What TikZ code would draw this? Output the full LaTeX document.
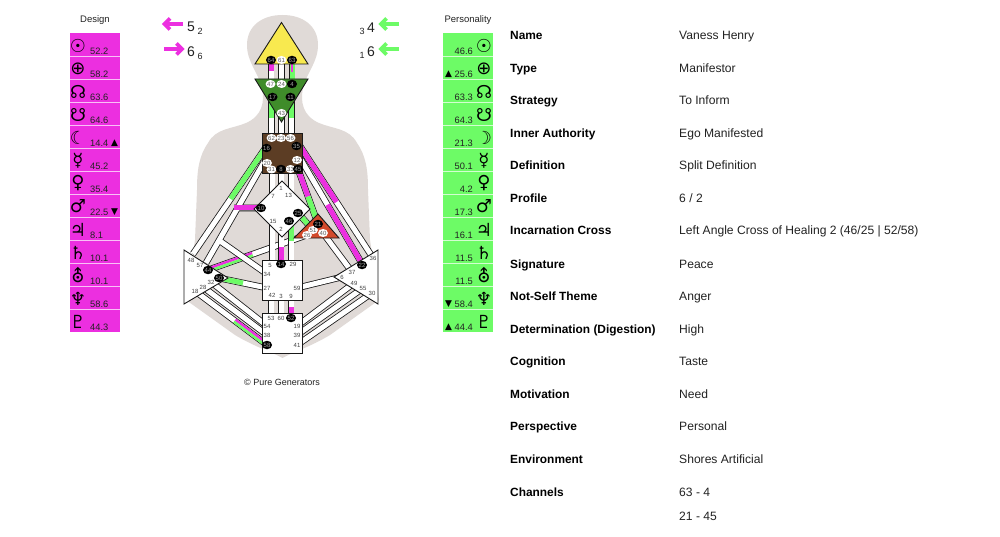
\documentclass[tikz,border=0pt]{standalone}
\usepackage{fontspec}
\setmainfont{Liberation Sans}
\newfontfamily\symf{DejaVu Sans}
\usetikzlibrary{calc,shapes.geometric}
\definecolor{mag}{HTML}{EC2FE0}
\definecolor{grn}{HTML}{6DFB66}
\definecolor{body}{HTML}{E0DAD7}
\definecolor{yel}{HTML}{F8E94F}
\definecolor{ajn}{HTML}{3F8C2A}
\definecolor{brn}{HTML}{5C3D24}
\definecolor{red2}{HTML}{D24A2B}
\definecolor{txt}{HTML}{222222}
\newcommand{\fs}[1]{\fontsize{#1}{#1}\selectfont}
\newcommand{\slh}{/}
\tikzset{
 x=1pt,y=-1pt,
 chanout/.style={line width=6.6pt,black!90},
 chanin/.style={line width=5pt,white},
 chang/.style={line width=5pt,grn},
 chanm/.style={line width=5pt,mag},
 centre/.style={draw=black!90,line width=0.9pt,line join=miter},
 gplain/.style={inner sep=0pt,font=\fs{6},text=black!75},
 gwhite/.style={ellipse,fill=white,inner sep=0pt,minimum width=10pt,minimum height=8pt,font=\fs{6},text=black!65},
 gblack/.style={ellipse,fill=black,inner sep=0pt,minimum width=10pt,minimum height=8.5pt,font=\fs{6},text=white!65!black},
 lab/.style={anchor=base west,inner sep=0pt,font=\bfseries\fs{11.9},text=black},
 val/.style={anchor=base west,inner sep=0pt,font=\fs{12.1},text=txt},
 cell/.style={inner sep=0pt,font=\fs{9.3},text=txt},
 glyph/.style={inner sep=0pt,font=\symf\fs{18},text=black},
 mini/.style={inner sep=0pt,font=\symf\fs{9},text=black},
 bigd/.style={inner sep=0pt,font=\fs{14},text=txt},
 subd/.style={inner sep=0pt,font=\fs{9},text=txt},
 head/.style={inner sep=0pt,font=\fs{9.5},text=txt},
 garrow/.style={line width=3.8pt,line join=miter},
 rowgap/.style={line width=0.8pt,white!70!#1},
}
\newcommand{\chan}[2]{\draw[chanout] (#1)--(#2); \draw[chanin] (#1)--(#2);}
\begin{document}
\begin{tikzpicture}
\useasboundingbox (0,0) rectangle (1000,537);
\fill[white] (0,0) rectangle (1000,537);
% silhouette
\fill[body] (282.5,15) .. controls (262,15) and (247,26) .. (247,45)
 .. controls (247,62) and (258,72) .. (262,88)
 .. controls (265,102) and (262,116) .. (246,123)
 .. controls (232,129) and (216,128) .. (208,143)
 .. controls (199,156) and (197,170) .. (197,190)
 -- (195,240) -- (186,300) -- (235,335)
 .. controls (255,347) and (272,352) .. (282.5,358)
 .. controls (293,352) and (310,347) .. (330,335)
 -- (379,300) -- (370,240) -- (368,190)
 .. controls (368,170) and (366,156) .. (357,143)
 .. controls (349,128) and (333,129) .. (319,123)
 .. controls (303,116) and (300,102) .. (303,88)
 .. controls (307,72) and (318,62) .. (318,45)
 .. controls (318,26) and (303,15) .. (282.5,15) -- cycle;
% gate coordinates
\foreach \n/\x/\y in {64/271/60,61/281.5/60,63/292/60,47/270.5/84,24/281.5/84,4/292/84,17/272.5/97,11/290.5/97,43/281.5/113,
62/271.5/138,23/281/138,56/290.5/138,16/266.5/148,35/296.5/146,20/267/163,12/297/160,31/271.5/169.5,8/281/169,33/290.5/169,45/298/169,
1/281/188,7/273/196,13/288.5/195,10/261/208,25/298/213,15/273/221,46/289/221,2/281/229,
21/318/224,51/313/230,26/307/235,40/323/233,
5/270/265,14/281/264,29/293/264,34/267/274,59/297/288,27/267/288,42/272/295,3/281/296,9/291/296,
53/271/318,60/281/318,52/291/318,54/267/326,19/297/326,38/267/335,39/297/335,58/267/345,41/297/345,
48/191/260,57/200/265,44/208/270,50/219/278,32/211/282,28/203/287,18/195/291,
36/373/258,22/362/265,37/352/272,6/342/277,49/354/283,55/363/288,30/372/293}
 {\coordinate (g\n) at (\x,\y);}
\coordinate (t64) at (271,60); \coordinate (b47) at (271,84);
\coordinate (t7) at (272,173); \coordinate (b7) at (272,200);
\coordinate (t1) at (281,173); \coordinate (b1) at (281,190);
\coordinate (t13) at (291,173); \coordinate (b13) at (291,200);
\coordinate (t15) at (272,225); \coordinate (b15) at (272,262);
\coordinate (t2) at (281,230); \coordinate (b2) at (281,262);
\coordinate (t46) at (291,225); \coordinate (b46) at (291,262);
\coordinate (t62) at (271.5,100); \coordinate (b62) at (271.5,135);
\coordinate (t23) at (281.5,110); \coordinate (b23) at (281.5,135);
\coordinate (t56) at (291.5,100); \coordinate (b56) at (291.5,135);
\coordinate (t42) at (271,298); \coordinate (b42) at (271,315);
\coordinate (t3) at (281,298); \coordinate (b3) at (281,315);
\coordinate (t9) at (291,298); \coordinate (b9) at (291,315);
\coordinate (j10) at (234,208);
\coordinate (j34) at (220,241);
\coordinate (e48) at (193,254); \coordinate (e57) at (206,263);
\coordinate (s16) at (264,150); \coordinate (s20) at (264,162);
\coordinate (s35) at (300,146); \coordinate (e36) at (373,258);
\coordinate (s12) at (300,158); \coordinate (e22) at (361,262);
% channel 44-26 lies under the others
\chan{g44}{g26}
\draw[line width=2.5pt,mag] ($(g44)!1.25pt!90:(g26)$) -- ($($(g44)!0.45!(g26)$)!1.25pt!90:(g26)$);
\draw[line width=2.5pt,grn] ($(g44)!1.25pt!-90:(g26)$) -- ($($(g44)!0.45!(g26)$)!1.25pt!-90:(g26)$);
% spleen to G and throat
\chan{s16}{e48}
\draw[chang] (s16) -- ($(s16)!0.47!(e48)$);
\draw[chanout] (s20)--(e57) (g10)--(j10) (g34)--(j34);
\draw[chanin] (s20)--(e57) (g10)--(j10) (g34)--(j34);
\draw[chanm] (g10)--(j10);
% right wing
\chan{s35}{e36}
\draw[chanm] (s35) -- ($(s35)!0.5!(e36)$);
\chan{s12}{e22}
\draw[chanm] ($(s12)!0.45!(e22)$) -- (e22);
\chan{g45}{g21}
\draw[chanm] (g45) -- ($(g45)!0.5!(g21)$);
\draw[chang] ($(g45)!0.5!(g21)$) -- (g21);
\chan{g25}{g51}
\draw[chang] (g25) -- (g51);
\chan{g40}{g37}
% head / ajna
\chan{t64}{b47}
\draw[chanm] (t64) -- (271,71);
\chan{g61}{g24}
\chan{g63}{g4}
\draw[chang] (g63) -- (g4);
\draw[line width=2.6pt,mag] (g63) -- (292,72);
% ajna / throat
\chan{t62}{b62} \draw[chang] (t62) -- (271.5,118);
\chan{t23}{b23}
\chan{t56}{b56} \draw[chang] (t56) -- (291.5,118);
% throat / G
\chan{t7}{b7} \chan{t1}{b1} \chan{t13}{b13}
% G / sacral
\chan{t15}{b15} \chan{t2}{b2} \chan{t46}{b46}
\draw[chang] (t46) -- (291,241);
\draw[chanm] (281,247) -- (b2);
% sacral / spleen, solar
\chan{g27}{g50} \draw[chang] (g50) -- ($(g50)!0.5!(g27)$);
\chan{g59}{g6}
% sacral / root
\chan{t42}{b42} \chan{t3}{b3} \chan{t9}{b9}
\draw[chanm] (291,307) -- (b9);
% root / spleen
\chan{g54}{g32} \chan{g38}{g28} \chan{g58}{g18}
\draw[line width=2.5pt,mag] ($(g58)!1.25pt!-90:(g18)$) -- ($($(g58)!0.45!(g18)$)!1.25pt!-90:(g18)$);
\draw[line width=2.5pt,grn] ($(g58)!1.25pt!90:(g18)$) -- ($($(g58)!0.45!(g18)$)!1.25pt!90:(g18)$);
% root / solar
\chan{g19}{g49} \chan{g39}{g55} \chan{g41}{g30}
% centres
\draw[centre,fill=yel] (281.5,22.5)--(308,64)--(255,64)--cycle;
\draw[centre,fill=ajn] (255,79)--(308,79)--(281.5,122)--cycle;
\draw[centre,fill=brn] (262,133) rectangle (302,173);
\draw[centre,fill=white] (282,181)--(310,209)--(282,237)--(254,209)--cycle;
\draw[centre,fill=red2] (318,214)--(339,238)--(294,238)--cycle;
\draw[centre,fill=white] (262,260) rectangle (302,300);
\draw[centre,fill=white] (262,313) rectangle (302,353);
\draw[centre,fill=white] (184,250)--(228,278)--(184,304)--cycle;
\draw[centre,fill=white] (378,250)--(334,277)--(378,304)--cycle;
% gate labels
\foreach \n in {61,47,24,43,62,23,56,20,12,31,33,51,26,40}
 {\node[gwhite] (n\n) at (g\n) {\n};}
\foreach \n in {64,63,4,17,11,16,35,8,45,10,25,46,21,14,52,58,44,50,22}
 {\node[gblack] (n\n) at (g\n) {\n};}
\foreach \n in {1,7,13,15,2,5,29,34,59,27,42,3,9,53,60,54,19,38,39,41,48,57,32,28,18,36,37,6,49,55,30}
 {\node[gplain] (n\n) at (g\n) {\n};}
\node[inner sep=0pt,font=\fs{9},text=txt] (copy) at (282,382) {© Pure Generators};
% design column
\node[head] (hd) at (95,20) {Design};
\node[head] (hp) at (468,20) {Personality};
\fill[mag] (70,33) rectangle (120,332);
\fill[grn] (443,33) rectangle (493,332);
\foreach \i in {1,...,12}{
 \draw[rowgap=mag] (70,33+23*\i) -- (120,33+23*\i);
 \draw[rowgap=grn] (443,33+23*\i) -- (493,33+23*\i);
}
\foreach \i/\g/\v/\m in {0/☉/52.2/,1/⊕/58.2/,2/☊/63.6/,3/☋/64.6/,4/☾/14.4/▲,5/☿/45.2/,6/♀/35.4/,7/♂/22.5/▼,8/♃/8.1/,9/♄/10.1/,10/⛢/10.1/,11/♆/58.6/,12/♇/44.3/}{
 \node[glyph] (dg\i) at (78,45.5+23*\i) {\g};
 \node[cell,anchor=base west] (dv\i) at (90,54.4+23*\i) {\v};
 \node[mini] (dm\i) at (114.5,51+23*\i) {\m};
}
\foreach \i/\g/\v/\m in {0/☉/46.6/,1/⊕/25.6/▲,2/☊/63.3/,3/☋/64.3/,4/☽/21.3/,5/☿/50.1/,6/♀/4.2/,7/♂/17.3/,8/♃/16.1/,9/♄/11.5/,10/⛢/11.5/,11/♆/58.4/▼,12/♇/44.4/▲}{
 \node[glyph] (pg\i) at (484,45.5+23*\i) {\g};
 \node[cell,anchor=base east] (pv\i) at (473,54.4+23*\i) {\v};
 \node[mini] (pm\i) at (448.5,51+23*\i) {\m};
}
% activation arrows
\draw[garrow,mag] (183,24)--(166,24); \draw[garrow,mag] (170,18.5)--(164.5,24)--(170,29.5);
\draw[garrow,mag] (164,49)--(181,49); \draw[garrow,mag] (176.5,43.5)--(182,49)--(176.5,54.5);
\draw[garrow,grn] (399,24)--(382,24); \draw[garrow,grn] (386.5,18.5)--(381,24)--(386.5,29.5);
\draw[garrow,grn] (399,49)--(382,49); \draw[garrow,grn] (386.5,43.5)--(381,49)--(386.5,54.5);
\node[bigd] (a5) at (191,27) {5}; \node[subd] (a2) at (200,31) {2};
\node[bigd] (a6) at (191,52) {6}; \node[subd] (a66) at (200,56) {6};
\node[bigd] (b4) at (371,28) {4}; \node[subd] (b3s) at (362,31) {3};
\node[bigd] (b6) at (371,52) {6}; \node[subd] (b1s) at (362,55) {1};
% table
\foreach \i/\l/\w/\y in {a/Name/Vaness Henry/40,b/Type/Manifestor/73,c/Strategy/To Inform/105,d/Inner Authority/Ego Manifested/138,e/Definition/Split Definition/170,f/Profile/6 \slh{} 2/203,g/Incarnation Cross/Left Angle Cross of Healing 2 (46\slh{}25 | 52\slh{}58)/235,h/Signature/Peace/268,i/Not-Self Theme/Anger/300,j/Determination (Digestion)/High/333,k/Cognition/Taste/365,l/Motivation/Need/398,m/Perspective/Personal/430,n/Environment/Shores Artificial/463,o/Channels/63 - 4/496}{
 \node[lab] (l\i) at (510,\y) {\l};
 \node[val] (v\i) at (679,\y) {\w};
}
\node[val] (vp) at (679,520) {21 - 45};
\end{tikzpicture}
\end{document}
